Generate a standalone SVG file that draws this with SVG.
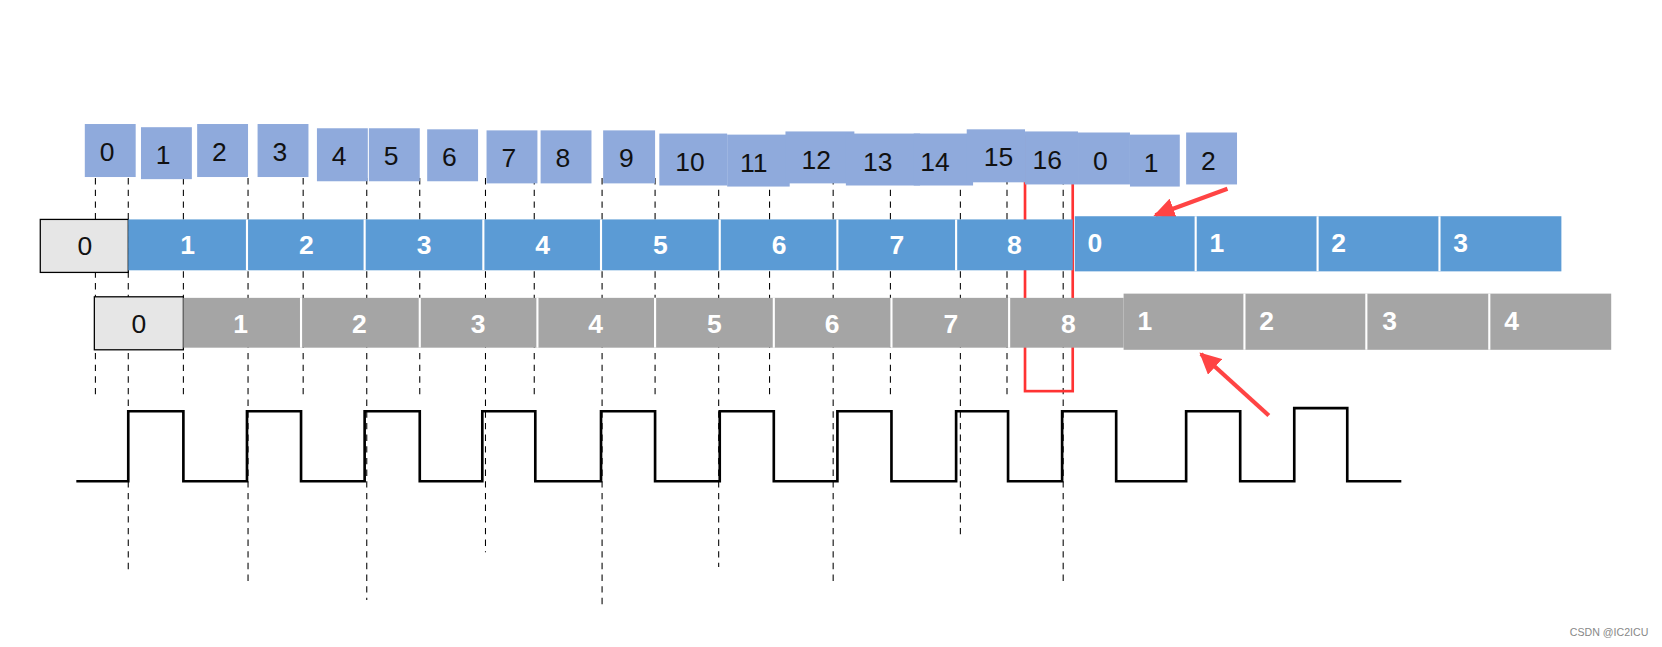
<svg xmlns="http://www.w3.org/2000/svg" width="1662" height="647" viewBox="0 0 1662 647">
<style>
.t{fill:#8FAADC}
.tl{font-family:"Liberation Sans",Arial,sans-serif;font-size:25px;fill:#111;text-anchor:middle}
.b{fill:#5B9BD5}
.g{fill:#A5A5A5}
.w{font-family:"Liberation Sans",Arial,sans-serif;font-size:25px;font-weight:bold;fill:#fff}
.c{text-anchor:middle}
.z{fill:#E6E6E6;stroke:#000;stroke-width:1.2}
.d{stroke:#000;stroke-width:1;stroke-dasharray:6,5;fill:none}
.sep{stroke:#fff;stroke-width:2}
</style>
<defs>
<marker id="ah" viewBox="0 0 10 10" refX="9" refY="5" markerWidth="5" markerHeight="5" orient="auto"><path d="M0,0L10,5L0,10z" fill="#F44"/></marker>
</defs>
<rect width="1662" height="647" fill="#fff"/>
<g transform="scale(1.06)">
<g id="connectors">
<path class="d" d="M90,168V375M121,168V540M173,168V375M234,168V553M286,168V375M346,168V566M396,168V375M458,168V521M504,168V375M568,168V575M618,168V375M678,168V535M726,168V375M786,168V553M840,168V375M906,168V508M950,168V375M1003,168V550"/>
<path d="M72,454H121V388H173V454H233V388H284V454H344V388H396V454H455V388H505V454H555M520,454H567V388H618V454H679V388H730V454H790V388H841V454H902V388H951V454H1002V388H1053V454H1119V388H1170V454H1221V385H1271V454H1322" fill="none" stroke="#000" stroke-width="2.5"/>
<rect x="967" y="129" width="45" height="240" fill="none" stroke="#F33" stroke-width="2.5"/>
<line x1="1158" y1="178" x2="1090" y2="203" stroke="#F44" stroke-width="4" marker-end="url(#ah)"/>
<line x1="1197" y1="392" x2="1133" y2="334" stroke="#F44" stroke-width="4" marker-end="url(#ah)"/>
</g>
<g id="top">
<rect class="t" x="80" y="117" width="48" height="50"/><text class="tl" x="101" y="152">0</text>
<rect class="t" x="133" y="120" width="48" height="49"/><text class="tl" x="154" y="155">1</text>
<rect class="t" x="186" y="117" width="48" height="50"/><text class="tl" x="207" y="152">2</text>
<rect class="t" x="243" y="117" width="48" height="50"/><text class="tl" x="264" y="152">3</text>
<rect class="t" x="299" y="121" width="48" height="50"/><text class="tl" x="320" y="156">4</text>
<rect class="t" x="348" y="121" width="48" height="50"/><text class="tl" x="369" y="156">5</text>
<rect class="t" x="403" y="122" width="48" height="49"/><text class="tl" x="424" y="157">6</text>
<rect class="t" x="459" y="123" width="48" height="50"/><text class="tl" x="480" y="158">7</text>
<rect class="t" x="510" y="123" width="48" height="50"/><text class="tl" x="531" y="158">8</text>
<rect class="t" x="569" y="123" width="49" height="50"/><text class="tl" x="591" y="158">9</text>
<rect class="t" x="622" y="126" width="64" height="49"/><text class="tl" x="651" y="161">10</text>
<rect class="t" x="686" y="127" width="59" height="49"/><text class="tl" x="711" y="162">11</text>
<rect class="t" x="741" y="124" width="65" height="49"/><text class="tl" x="770" y="159">12</text>
<rect class="t" x="798" y="126" width="70" height="49"/><text class="tl" x="828" y="161">13</text>
<rect class="t" x="862" y="126" width="56" height="49"/><text class="tl" x="882" y="161">14</text>
<rect class="t" x="912" y="122" width="55" height="50"/><text class="tl" x="942" y="157">15</text>
<rect class="t" x="967" y="124" width="50" height="50"/><text class="tl" x="988" y="159">16</text>
<rect class="t" x="1017" y="125" width="49" height="49"/><text class="tl" x="1038" y="160">0</text>
<rect class="t" x="1066" y="127" width="47" height="49"/><text class="tl" x="1086" y="162">1</text>
<rect class="t" x="1119" y="125" width="48" height="49"/><text class="tl" x="1140" y="160">2</text>
</g>
<g id="blue">
<rect class="z" x="38" y="207" width="83" height="50"/><text class="tl" x="80" y="241">0</text>
<rect class="b" x="121" y="207" width="891" height="48"/>
<path class="sep" d="M233,207V255M344,207V255M456,207V255M567,207V255M679,207V255M790,207V255M902,207V255"/>
<g class="w c"><text x="177" y="240" class="w c">1</text><text x="289" y="240" class="w c">2</text><text x="400" y="240" class="w c">3</text><text x="512" y="240" class="w c">4</text><text x="623" y="240" class="w c">5</text><text x="735" y="240" class="w c">6</text><text x="846" y="240" class="w c">7</text><text x="957" y="240" class="w c">8</text></g>
<rect class="b" x="1014" y="204" width="459" height="52"/>
<path class="sep" d="M1128,204V256M1243,204V256M1358,204V256"/>
<text class="w" x="1026" y="238">0</text><text class="w" x="1141" y="238">1</text><text class="w" x="1256" y="238">2</text><text class="w" x="1371" y="238">3</text>
</g>
<g id="gray">
<rect class="z" x="89" y="280" width="84" height="50"/><text class="tl" x="131" y="314">0</text>
<rect class="g" x="173" y="281" width="887" height="47"/>
<path class="sep" d="M284,281V328M396,281V328M507,281V328M618,281V328M730,281V328M841,281V328M952,281V328"/>
<text x="227" y="314" class="w c">1</text><text x="339" y="314" class="w c">2</text><text x="451" y="314" class="w c">3</text><text x="562" y="314" class="w c">4</text><text x="674" y="314" class="w c">5</text><text x="785" y="314" class="w c">6</text><text x="897" y="314" class="w c">7</text><text x="1008" y="314" class="w c">8</text>
<rect class="g" x="1060" y="277" width="460" height="53"/>
<path class="sep" d="M1174,277V330M1289,277V330M1405,277V330"/>
<text class="w" x="1073" y="311">1</text><text class="w" x="1188" y="311">2</text><text class="w" x="1304" y="311">3</text><text class="w" x="1419" y="311">4</text>
</g>
<text x="1555" y="600" text-anchor="end" font-family="'Liberation Sans',Arial,sans-serif" font-size="10" fill="#888">CSDN @IC2ICU</text>
</g>
</svg>
